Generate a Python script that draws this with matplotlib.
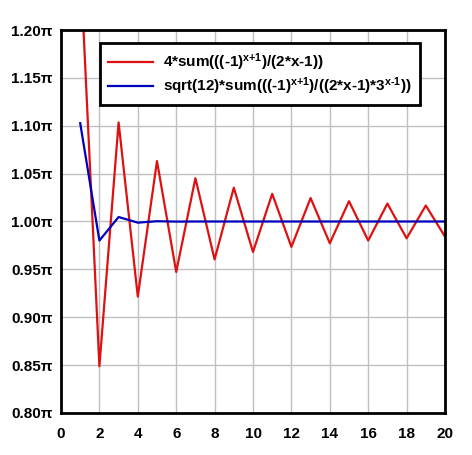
import matplotlib.pyplot as plt
import numpy as np

plt.rcParams['font.family'] = ['Liberation Sans', 'DejaVu Sans']
plt.rcParams['font.weight'] = 'bold'
plt.rcParams['mathtext.fontset'] = 'custom'
plt.rcParams['mathtext.bf'] = 'Liberation Sans:bold'
plt.rcParams['mathtext.rm'] = 'Liberation Sans:bold'
plt.rcParams['mathtext.default'] = 'bf'

x = list(range(1, 21))
# partial sums, in units of pi
leibniz = [1.2732, 0.8488, 1.1035, 0.9216, 1.0631, 0.9473, 1.0452, 0.9604, 1.0353, 0.9682,
           1.0289, 0.9735, 1.0245, 0.9773, 1.0212, 0.9801, 1.0187, 0.9824, 1.0167, 0.9842]
madhava = [1.1027, 0.9801, 1.0047, 0.9988, 1.0003, 0.9999, 1.0000, 1.0000, 1.0000, 1.0000,
           1.0000, 1.0000, 1.0000, 1.0000, 1.0000, 1.0000, 1.0000, 1.0000, 1.0000, 1.0000]

xticks = list(range(0, 21, 2))
yticks = [0.80, 0.85, 0.90, 0.95, 1.00, 1.05, 1.10, 1.15, 1.20]

fig = plt.figure(figsize=(4.72, 4.55), dpi=100)
ax = fig.add_axes([61 / 472, 1 - 413 / 455, 384 / 472, 383 / 455])

ax.plot(x, leibniz, color='#dd1111', lw=1.6, label=r'4*sum(((-1)$^{x{+}1}$)/(2*x-1))')
ax.plot(x, madhava, color='#0000bb', lw=1.6,
        label=r'sqrt(12)*sum(((-1)$^{x{+}1}$)/((2*x-1)*3$^{x\text{-}1}$))')

ax.set_xlim(0, 20)
ax.set_ylim(0.8, 1.2)
ax.set_xticks(xticks)
ax.set_yticks(yticks)
ax.set_yticklabels([f'{v:.2f}π' for v in yticks])
ax.tick_params(length=0, labelsize=11, pad=6)
ax.tick_params(axis='x', pad=10)
ax.grid(color='#c0c0c0', lw=1)
ax.set_axisbelow(True)
for s in ax.spines.values():
    s.set_linewidth(2)

leg = ax.legend(loc='upper left', bbox_to_anchor=(100 / 472, 1 - 43 / 455),
                bbox_transform=fig.transFigure, fontsize=11, fancybox=False,
                framealpha=1, edgecolor='black', borderpad=0.55, handlelength=2.9,
                handletextpad=0.65, labelspacing=0.15, borderaxespad=0)
leg.get_frame().set_linewidth(2)

fig.savefig('out.png', dpi=100)
